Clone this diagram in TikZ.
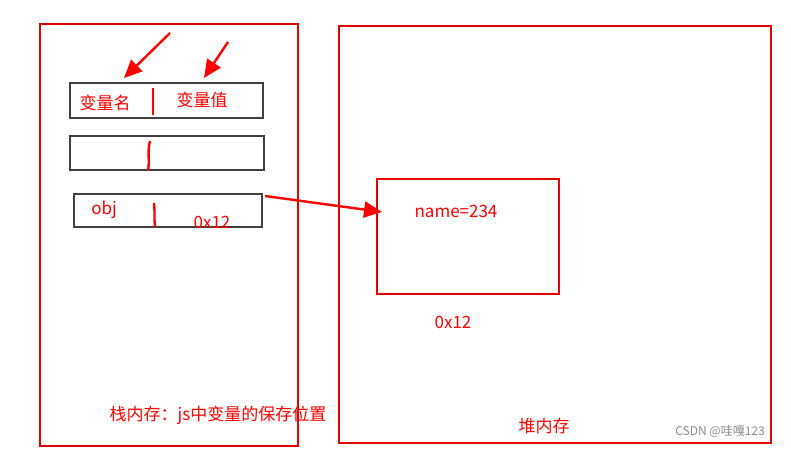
\documentclass[tikz,border=0pt]{standalone}
\usepackage{fontspec}
\setmainfont{Noto Sans CJK SC}
\usetikzlibrary{arrows.meta}
\begin{document}
\begin{tikzpicture}[x=1pt,y=-1pt,
  redbox/.style={draw=red!90!black,line width=2.2pt},
  graybox/.style={draw=black!75,line width=2.2pt},
  rt/.style={text=red,font=\fontsize{17}{20}\selectfont,inner sep=0},
  stroke/.style={draw=red,line width=2.4pt},
  arr/.style={draw=red,line width=2.4pt,-{Triangle[length=18pt,width=16pt]}}]
\path[fill=white] (0,0) rectangle (791,449);
\useasboundingbox (0,0) rectangle (791,449);
\node[redbox,minimum width=258,minimum height=422,anchor=north west,inner sep=0] (stack) at (39,23) {};
\node[redbox,minimum width=432,minimum height=417,anchor=north west,inner sep=0] (heap) at (338,25) {};
\node[graybox,minimum width=193,minimum height=35,anchor=north west,inner sep=0] (r1) at (69,82) {};
\node[graybox,minimum width=194,minimum height=34,anchor=north west,inner sep=0] (r2) at (69,135) {};
\node[graybox,minimum width=188,minimum height=33,anchor=north west,inner sep=0] (r3) at (73,193) {};
\node[redbox,minimum width=182,minimum height=115,anchor=north west,inner sep=0] (obj) at (376,178) {};
\node[rt] (t1) at (105,103) {变量名};
\node[rt] (t2) at (202,100) {变量值};
\node[rt] (t3) at (104,210) {obj};
\node[rt] (t4) at (212,222) {0x12};
\node[rt] (t5) at (456,211) {name=234};
\node[rt] (t6) at (453,322) {0x12};
\node[rt] (t7) at (218,415) {栈内存：js中变量的保存位置};
\node[rt] (t8) at (544,426) {堆内存};
\node[text=black!45,font=\fontsize{12}{14}\selectfont,inner sep=0] (wm) at (720,432) {CSDN @哇嘎123};
\coordinate (a1s) at (170,33); \coordinate (a1e) at (124,78);
\coordinate (a2s) at (228,42); \coordinate (a2e) at (204,78);
\draw[arr] (a1s) -- (a1e);
\draw[arr] (a2s) -- (a2e);
\coordinate (ps) at (265,196); \coordinate (pe) at (382,212);
\draw[arr] (ps) -- (pe);
\draw[stroke] (153,88) -- (153,115);
\draw[stroke] (150,141) .. controls (147,152) and (150,160) .. (148,171);
\draw[stroke] (154,203) .. controls (155,212) and (154,220) .. (155,227);
\end{tikzpicture}
\end{document}
